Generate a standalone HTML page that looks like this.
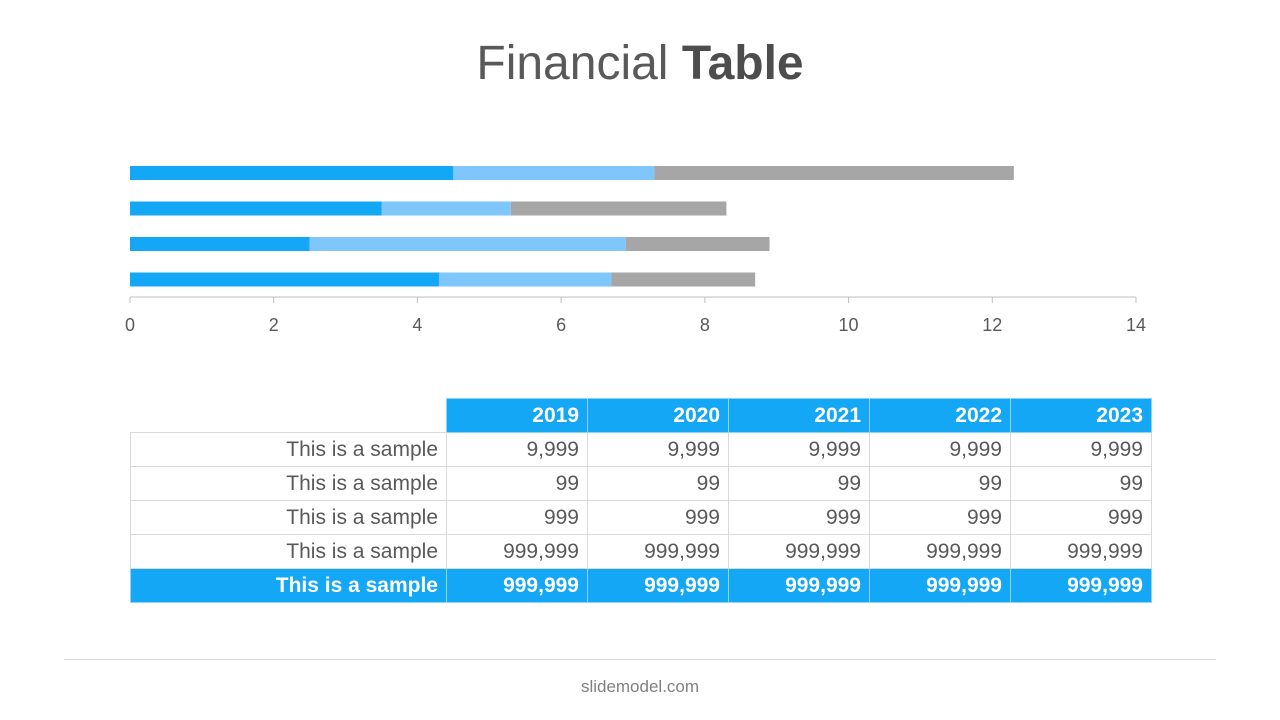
<!DOCTYPE html>
<html><head><meta charset="utf-8"><style>
body{margin:0;width:1280px;height:720px;background:#fff;font-family:"Liberation Sans",sans-serif;position:relative;overflow:hidden}
#title{position:absolute;top:36px;left:0;width:1280px;text-align:center;font-size:48px;color:#595959}
#title b{color:#4d4d4d}
svg{position:absolute;left:0;top:0}
table{position:absolute;left:130px;top:398px;border-collapse:collapse;font-size:21px;color:#595959}
td{border:1px solid #d9d9d9;height:34px;padding:0 8px;text-align:right;box-sizing:border-box}
td.c{width:141px}
td.l{width:316px}
tr.h td.c,tr.f td{background:#14a7f5;color:#fff;font-weight:bold;border-color:#8ed3fa}
tr.h td.e{border:none;border-bottom:1px solid #d9d9d9}
#foot-line{position:absolute;left:64px;top:659px;width:1152px;height:1px;background:#d9d9d9}
#foot{position:absolute;top:677px;width:1280px;text-align:center;font-size:17px;color:#808080}
</style></head><body>
<div id="title">Financial <b>Table</b></div>
<svg id="chart" width="1280" height="360"></svg>
<table>
<tr class="h"><td class="l e"></td><td class="c">2019</td><td class="c">2020</td><td class="c">2021</td><td class="c">2022</td><td class="c">2023</td></tr>
<tr><td class="l">This is a sample</td><td class="c">9,999</td><td class="c">9,999</td><td class="c">9,999</td><td class="c">9,999</td><td class="c">9,999</td></tr>
<tr><td class="l">This is a sample</td><td class="c">99</td><td class="c">99</td><td class="c">99</td><td class="c">99</td><td class="c">99</td></tr>
<tr><td class="l">This is a sample</td><td class="c">999</td><td class="c">999</td><td class="c">999</td><td class="c">999</td><td class="c">999</td></tr>
<tr><td class="l">This is a sample</td><td class="c">999,999</td><td class="c">999,999</td><td class="c">999,999</td><td class="c">999,999</td><td class="c">999,999</td></tr>
<tr class="f"><td class="l">This is a sample</td><td class="c">999,999</td><td class="c">999,999</td><td class="c">999,999</td><td class="c">999,999</td><td class="c">999,999</td></tr>
</table>
<div id="foot-line"></div>
<div id="foot">slidemodel.com</div>
<script>
const categories=["Cat 1","Cat 2","Cat 3","Cat 4"];
const series1=[4.5,3.5,2.5,4.3];
const series2=[2.8,1.8,4.4,2.4];
const series3=[5.0,3.0,2.0,2.0];
const ticks=[0,2,4,6,8,10,12,14];
const ns="http://www.w3.org/2000/svg";
const svg=document.getElementById('chart');
const x0=130,x1=1136,xmax=14;
const X=v=>x0+(x1-x0)*v/xmax;
const Y=i=>173+i*35.5;
function mk(t,a){const e=document.createElementNS(ns,t);for(const k in a)e.setAttribute(k,a[k]);svg.appendChild(e);return e;}
const axis=mk('line',{x1:x0,x2:x1,y1:297,y2:297,stroke:'#bfbfbf','stroke-width':1});


ticks.forEach(t=>{
 const l=mk('line',{x1:X(t),x2:X(t),y1:297,y2:303,stroke:'#bfbfbf'});
 
 
 const tx=mk('text',{x:X(t),y:331,'text-anchor':'middle','font-size':18,fill:'#595959','font-family':'Liberation Sans, sans-serif'});
 tx.textContent=t;
 
 
});
const cols=['#14a7f5','#7fc6fa','#a6a6a6'];
categories.forEach((c,i)=>{
 let s=0;
 [series1,series2,series3].forEach((ser,k)=>{
  const v=ser[i];
  const r=mk('rect',{x:X(s),y:Y(i)-7,width:X(s+v)-X(s),height:14,fill:cols[k]});
  
  
  s+=v;
 });
});
</script>
</body></html>
